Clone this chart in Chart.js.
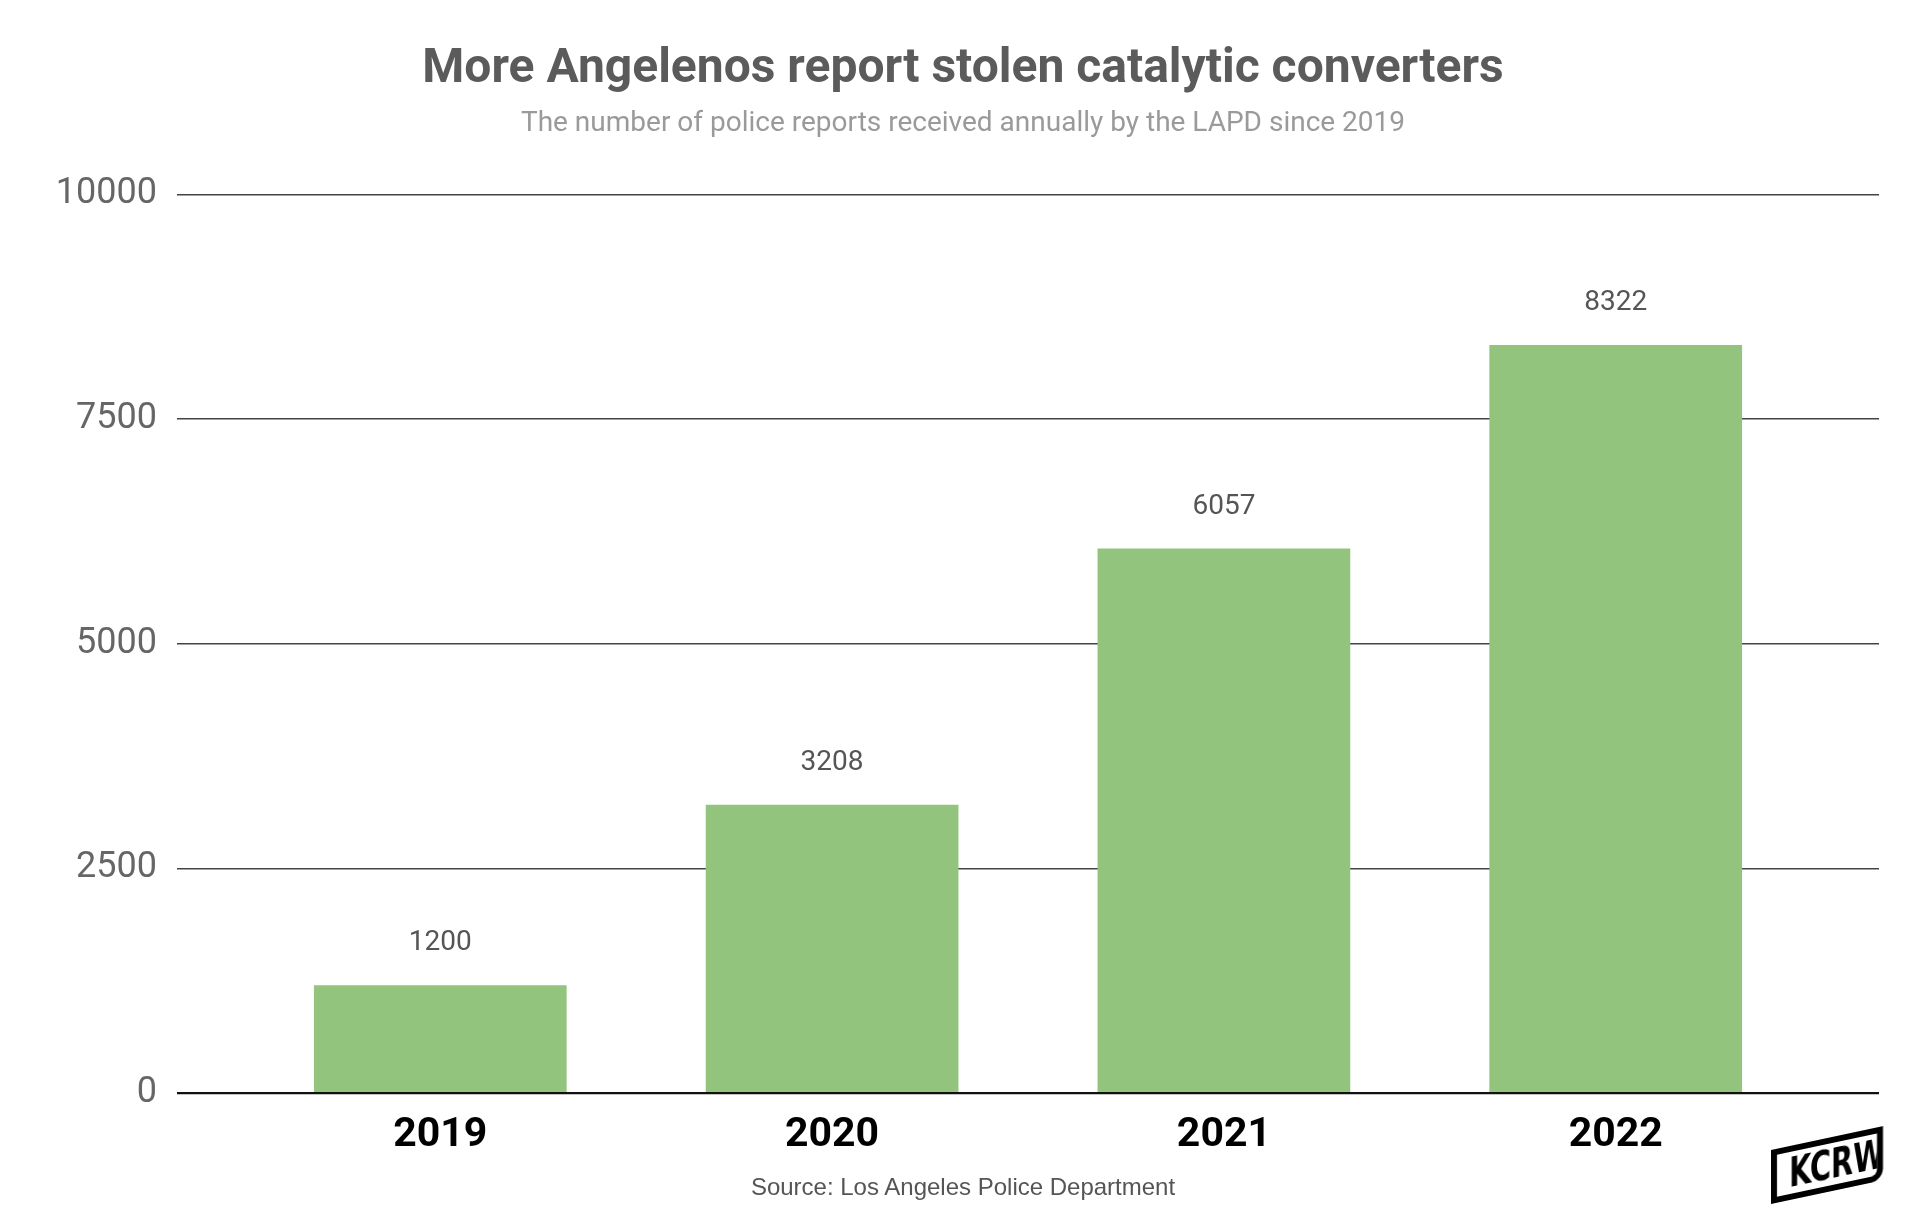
<!DOCTYPE html>
<html>
<head>
<meta charset="utf-8">
<script src="https://cdn.jsdelivr.net/npm/chart.js@4.4.0/dist/chart.umd.min.js"></script>
<style>
  html, body { margin: 0; padding: 0; background: #fff; }
  #wrap { position: relative; width: 1926px; height: 1232px; overflow: hidden; }
  #source {
    position: absolute; left: 0; width: 1926px; top: 1173px; text-align: center;
    font-family: "Liberation Sans", Arial, sans-serif; font-size: 24px; color: #555;
  }
  #logo {
    position: absolute; left: 1771px; top: 1150px; width: 112px; height: 54px;
    box-sizing: border-box; border: 6px solid #000; border-radius: 0 0 12px 0;
    transform: skewY(-12deg); transform-origin: left top;
    text-align: center; overflow: hidden;
  }
  #logo span {
    display: inline-block; transform: scaleX(0.8);
    font-family: "DejaVu Sans Condensed", "DejaVu Sans", sans-serif; font-weight: bold;
    font-size: 40px; line-height: 42px; letter-spacing: 0px; color: #000;
  }
</style>
</head>
<body>
<div id="wrap">
  <canvas id="reportsChart" width="1926" height="1232"></canvas>
  <div id="source">Source: Los Angeles Police Department</div>
  <div id="logo"><span>KCRW</span></div>
</div>
<script>
// Chart data
const years = ['2019', '2020', '2021', '2022'];
const reports = [1200, 3208, 6057, 8322];
const yTicks = [0, 2500, 5000, 7500, 10000];

// Draw the value above each bar
const barValueLabels = {
    id: 'barValueLabels',
    afterDatasetsDraw(chart) {
        const ctx = chart.ctx;
        const meta = chart.getDatasetMeta(0);
        ctx.save();
        ctx.font = '28px Roboto';
        ctx.fillStyle = '#555';
        ctx.textAlign = 'center';
        ctx.textBaseline = 'middle';
        meta.data.forEach((bar, i) => {
            ctx.fillText(String(reports[i]), bar.x, bar.y - 42);
        });
        ctx.restore();
    }
};

const ctx = document.getElementById('reportsChart').getContext('2d');

const reportsChart = new Chart(ctx, {
    type: 'bar',
    data: {
        datasets: [{
            label: 'Police reports',
            data: reports.map((v, i) => ({ x: i, y: v })),
            backgroundColor: '#93c47d',
            borderWidth: 0,
            categoryPercentage: 1,
            barPercentage: 0.645
        }]
    },
    options: {
        responsive: false,
        animation: false,
        devicePixelRatio: 1,
        layout: {
            padding: 0
        },
        plugins: {
            legend: { display: false },
            tooltip: { enabled: false },
            title: {
                display: true,
                text: 'More Angelenos report stolen catalytic converters',
                color: '#5b5b5b',
                font: { family: 'Roboto', size: 48, weight: 'bold' },
                padding: { top: 41, bottom: 9 }
            },
            subtitle: {
                display: true,
                text: 'The number of police reports received annually by the LAPD since 2019',
                color: '#9a9a9a',
                font: { family: 'Roboto', size: 28 },
                padding: { top: 0, bottom: 53 }
            }
        },
        scales: {
            x: {
                type: 'linear',
                offset: false,
                min: -0.672,
                max: 3.672,
                grid: { display: false },
                border: { display: false },
                afterBuildTicks(scale) {
                    scale.ticks = years.map((_, i) => ({ value: i }));
                },
                afterFit(scale) {
                    scale.height = 139;
                },
                ticks: {
                    padding: 10,
                    color: '#000',
                    font: { family: 'Roboto', size: 41, weight: 'bold' },
                    callback: (value) => years[value]
                }
            },
            y: {
                min: 0,
                max: 10000,
                border: { display: false },
                afterBuildTicks(scale) {
                    scale.ticks = yTicks.map(v => ({ value: v }));
                },
                afterFit(scale) {
                    scale.width = 177;
                },
                grid: {
                    drawTicks: false,
                    color: (c) => c.tick && c.tick.value === 0 ? '#111' : '#444',
                    lineWidth: (c) => c.tick && c.tick.value === 0 ? 2.2 : 1.4
                },
                ticks: {
                    padding: 20,
                    color: '#666',
                    font: { family: 'Roboto', size: 36 },
                    callback: (value) => String(value)
                }
            },
            // empty right margin so the titles stay centred on the page
            yRight: {
                position: 'right',
                grid: { display: false },
                border: { display: false },
                ticks: { display: false },
                afterFit(scale) {
                    scale.width = 47;
                }
            }
        }
    },
    plugins: [barValueLabels]
});
</script>
</body>
</html>
